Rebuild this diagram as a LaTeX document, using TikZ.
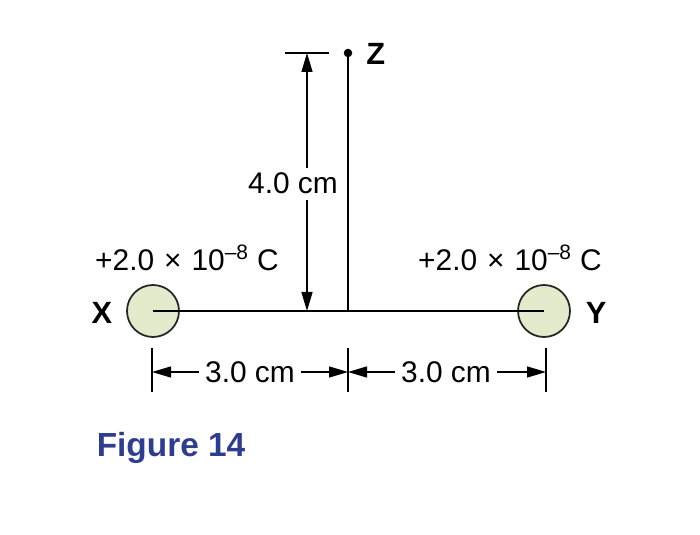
\documentclass[tikz,border=0pt]{standalone}
\usepackage{fontspec}
\setmainfont{Liberation Sans}
\usepackage{tikz}
\usetikzlibrary{arrows.meta,positioning,calc}
\definecolor{chargefill}{RGB}{226,235,203}
\definecolor{figblue}{RGB}{46,61,143}
\tikzset{
  charge/.style={circle,draw=black!85,line width=1pt,fill=chargefill,minimum size=1.04cm,inner sep=0pt},
  dimline/.style={line width=0.8pt,-{Triangle[length=0.38cm,width=0.22cm]}},
  lbl/.style={font=\fontsize{17}{20}\selectfont,inner sep=0pt},
  ptlbl/.style={font=\fontsize{17.5}{20}\selectfont\bfseries,inner sep=0pt}
}
\begin{document}
\begin{tikzpicture}
\useasboundingbox (0,0) rectangle (14,10.68);
% charges and the line between them
\node[charge] (X) at (3.06,4.46) {};
\node[charge] (Y) at (10.88,4.46) {};
\coordinate (mid) at (6.96,4.46);
\coordinate (Z) at (6.96,9.62);
\draw[line width=0.9pt] (X.center) -- (Y.center);
\draw[line width=0.9pt] (mid) -- (Z);
\fill (Z) circle (0.085);
\node[ptlbl,anchor=west] (zlbl) at (7.32,9.6) {Z};
\node[ptlbl] (xlbl) at (2.04,4.42) {X};
\node[ptlbl] (ylbl) at (11.92,4.42) {Y};
% charge values
\node[lbl] (qx) at (3.74,5.52) {+2.0\,\,×\,\,10\textsuperscript{–8} C};
\node[lbl] (qy) at (10.2,5.52) {+2.0\,\,×\,\,10\textsuperscript{–8} C};
% vertical distance
\coordinate (bartop) at (6.14,9.62);
\coordinate (barbot) at (6.14,4.46);
\draw[line width=0.8pt] (5.70,9.62) -- (6.58,9.62);
\node[lbl] (dz) at (5.86,7.02) {4.0 cm};
\draw[dimline] (6.14,7.32) -- (bartop);
\draw[dimline] (6.14,6.68) -- (barbot);
% horizontal distances
\foreach \x/\n in {3.04/t1,6.96/t2,10.92/t3}{
  \draw[line width=0.8pt] (\x,3.72) -- (\x,2.84);
  \coordinate (\n) at (\x,3.24);
}
\node[lbl,inner xsep=0.12cm] (dx1) at (5.0,3.24) {3.0 cm};
\node[lbl,inner xsep=0.12cm] (dx2) at (8.92,3.24) {3.0 cm};
\draw[dimline] (dx1.west) -- (t1);
\draw[dimline] (dx1.east) -- (t2);
\draw[dimline] (dx2.west) -- (t2);
\draw[dimline] (dx2.east) -- (t3);
% caption
\node[font=\fontsize{19}{22}\selectfont\bfseries,text=figblue,inner sep=0pt] (cap) at (3.42,1.72) {Figure 14};
\end{tikzpicture}
\end{document}
